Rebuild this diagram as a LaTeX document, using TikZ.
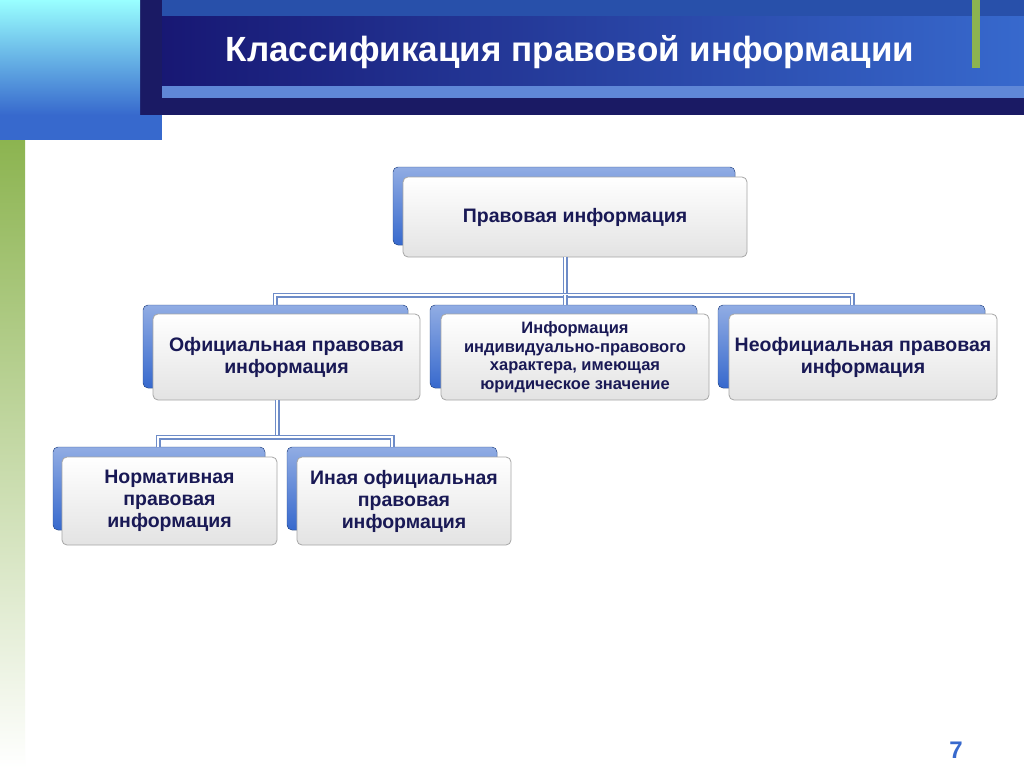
\documentclass[tikz,border=0pt]{standalone}
\usepackage{fontspec}
\setmainfont{Liberation Sans}
\usetikzlibrary{positioning}
\definecolor{navy}{RGB}{26,26,100}
\definecolor{barblue}{RGB}{40,80,170}
\definecolor{midblue}{RGB}{55,105,205}
\definecolor{leaf}{RGB}{140,180,80}
\definecolor{linkblue}{RGB}{110,140,200}
\definecolor{boxtext}{RGB}{25,25,85}
\tikzset{
  backbox/.style={rounded corners=5pt, draw=midblue!70!black, top color=midblue!55!white, bottom color=midblue},
  frontbox/.style={rounded corners=5pt, draw=gray!70, line width=0.8pt, top color=white, bottom color=gray!22, align=center, font=\bfseries\fontsize{19.5}{22}\selectfont, text=boxtext},
  link/.style={draw=linkblue, line width=1.5pt, double=white, double distance=2pt}
}
\begin{document}
\begin{tikzpicture}[x=1pt,y=-1pt]
		\useasboundingbox (0,0) rectangle (1024,768);
		\fill[white] (0,0) rectangle (1024,768);
		%header
		\fill[barblue] (162,0) rectangle (1024,98);
		\shade[left color=navy!90!blue, right color=midblue] (162,17) rectangle (1024,86);
		\fill[midblue!80!white] (162,86) rectangle (1024,98);
		\fill[navy] (140,98) rectangle (1024,115);
		\fill[navy] (140,0) rectangle (162,115);
		\shade[top color=cyan!40, bottom color=midblue] (0,0) rectangle (140,115);
		\fill[midblue] (0,115) rectangle (162,140);
		\shade[top color=leaf, bottom color=white] (0,140) rectangle (25,768);
		\fill[leaf] (972,0) rectangle (980,68);
		\node[text=white, font=\bfseries\fontsize{35}{38}\selectfont] (title) at (570,52) {Классификация правовой информации};
		\node[text=midblue, font=\bfseries\fontsize{24}{26}\selectfont] (pagenum) at (956,750) {7};
		%boxes
		\fill[backbox] (393,167) rectangle (735,245);
		\node[frontbox, minimum width=344pt, minimum height=80pt] (pravo) at (575,217) {Правовая информация};
		\fill[backbox] (143,305) rectangle (408,388);
		\node[frontbox, minimum width=267pt, minimum height=86pt] (ofic) at (286.5,357) {Официальная правовая\\информация};
		\fill[backbox] (430,305) rectangle (697,388);
		\node[frontbox, minimum width=268pt, minimum height=86pt, font=\bfseries\fontsize{16.5}{18.5}\selectfont] (indiv) at (575,357) {Информация\\индивидуально-правового\\характера, имеющая\\юридическое значение};
		\fill[backbox] (718,305) rectangle (985,388);
		\node[frontbox, minimum width=268pt, minimum height=86pt] (neofic) at (863,357) {Неофициальная правовая\\информация};
		\fill[backbox] (53,447) rectangle (265,530);
		\node[frontbox, minimum width=215pt, minimum height=88pt] (norm) at (169.5,501) {Нормативная\\правовая\\информация};
		\fill[backbox] (287,447) rectangle (497,530);
		\node[frontbox, minimum width=214pt, minimum height=88pt] (inaya) at (404,501) {Иная официальная\\правовая\\информация};
		%links
		\coordinate (busA) at (565,295);
		\coordinate (busB) at (277,437);
		\draw[link] (pravo.south -| busA) -- (busA);
		\draw[link] (275,305) |- (busA) -| (852,305);
		\draw[link] (busA) -- (565,305);
		\draw[link] (ofic.south -| busB) -- (busB);
		\draw[link] (158,447) |- (busB) -| (392,447);
	\end{tikzpicture}
\end{document}
